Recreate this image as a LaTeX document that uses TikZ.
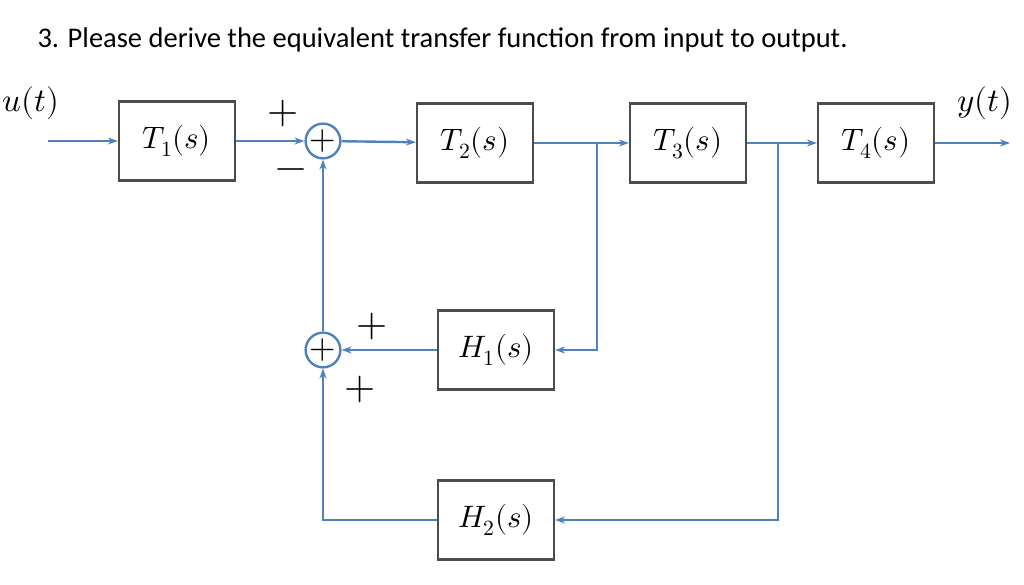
\documentclass[tikz,border=0pt]{standalone}
\usepackage{fontspec}
\setmainfont{Carlito}
\usepackage{unicode-math}
\setmathfont{Latin Modern Math}
\usetikzlibrary{arrows.meta}
\definecolor{lb}{RGB}{79,129,189}
\begin{document}
\begin{tikzpicture}[x=1pt,y=-1pt,
  blk/.style={draw=black!70,line width=2.2pt,minimum width=116pt,minimum height=79pt,inner sep=0pt,font=\fontsize{31}{34}\selectfont},
  sum/.style={circle,draw=lb,line width=2.4pt,minimum size=31pt,inner sep=0pt,font=\fontsize{34}{34}\selectfont},
  wire/.style={draw=lb,line width=2.4pt},
  arr/.style={wire,-{Stealth[length=10pt,width=7pt]}},
  lab/.style={font=\fontsize{33}{33}\selectfont},
  sgn/.style={font=\fontsize{40}{40}\selectfont}]
\useasboundingbox (0,0) rectangle (1024,585);
\node[anchor=west,font=\fontsize{28.5}{32}\selectfont] (title) at (34,40) {3. Please derive the equivalent transfer function from input to output.};
\node[lab] (u) at (31,103) {$u(t)$};
\node[lab] (y) at (985,103) {$y(t)$};
\coordinate (in) at (48,141);
\coordinate (out) at (1010,143);
\node[blk] (T1) at (177,141) {$T_1(s)$};
\node[sum] (S1) at (323,141) {\raisebox{-2pt}{$+$}};
\node[blk] (T2) at (475,143) {$T_2(s)$};
\node[blk] (T3) at (688,143) {$T_3(s)$};
\node[blk] (T4) at (876,143) {$T_4(s)$};
\node[blk] (H1) at (496,350) {$H_1(s)$};
\node[blk] (H2) at (496,520) {$H_2(s)$};
\node[sum] (S2) at (323,350) {\raisebox{-2pt}{$+$}};
\node[sgn] (p1) at (283,114) {$+$};
\node[sgn] (m1) at (291,174) {$-$};
\node[sgn] (p2) at (372,326) {$+$};
\node[sgn] (p3) at (360,389) {$+$};
\coordinate (b1) at (597,143);
\coordinate (b2) at (778,143);
\draw[arr] (in) -- (T1);
\draw[arr] (T1) -- (S1);
\draw[arr] (S1) -- (T2);
\draw[arr] (T2) -- (T3);
\draw[arr] (T3) -- (T4);
\draw[arr] (T4) -- (out);
\draw[arr] (b1) |- (H1.east);
\draw[arr] (b2) |- (H2.east);
\draw[arr] (H1) -- (S2);
\draw[arr] (H2.west) -| (S2.south);
\draw[arr] (S2) -- (S1);
\end{tikzpicture}
\end{document}
